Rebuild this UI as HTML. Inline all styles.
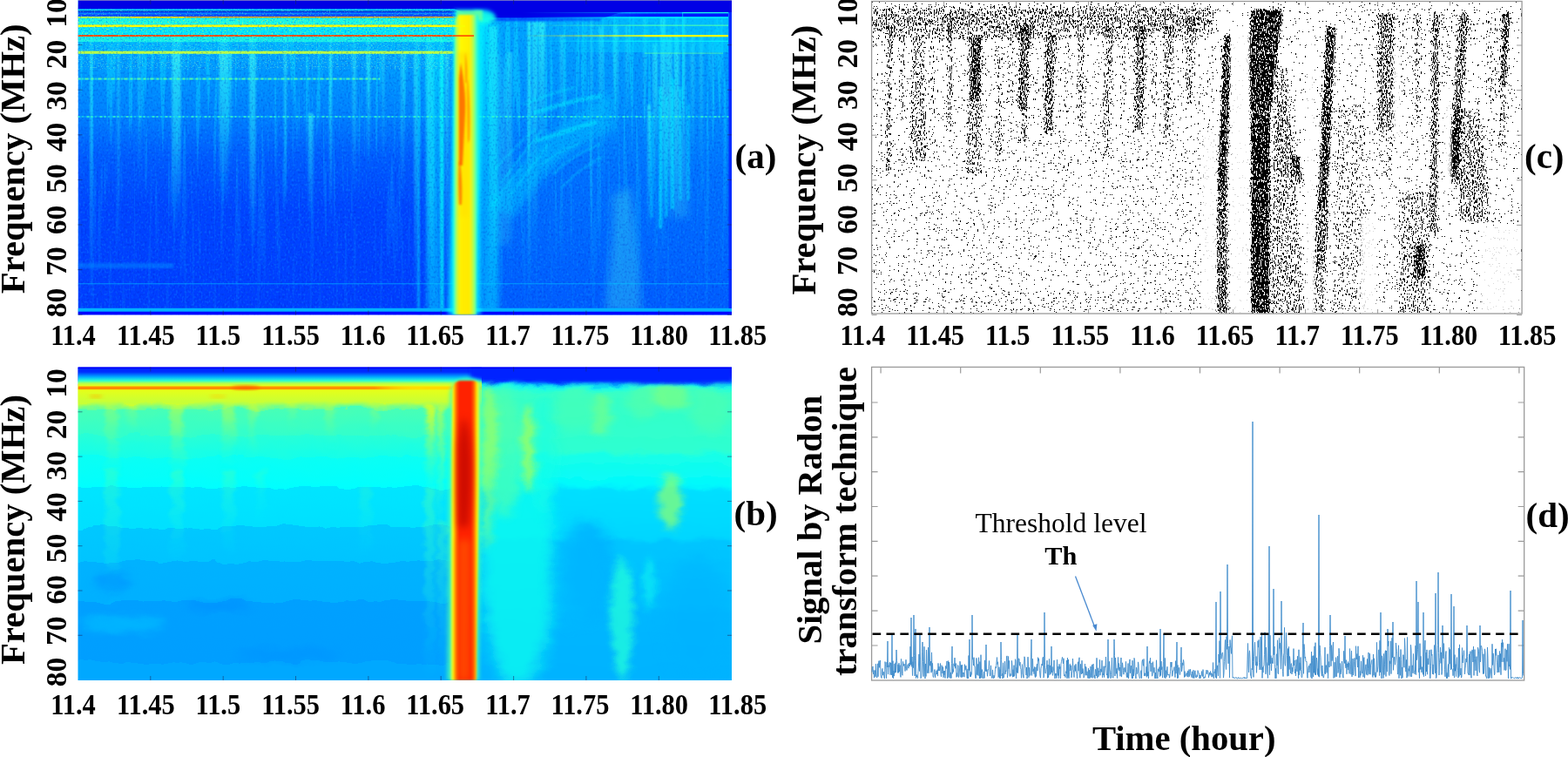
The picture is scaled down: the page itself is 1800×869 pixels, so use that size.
<!DOCTYPE html>
<html><head><meta charset="utf-8"><title>Figure</title>
<style>html,body{margin:0;padding:0;background:#fff;overflow:hidden}svg{display:block}</style></head>
<body><svg width="1800" height="869" viewBox="0 0 1800 869">
<rect width="1800" height="869" fill="#fff"/>
<defs><linearGradient id="gAL" x1="0" y1="0" x2="0" y2="1"><stop offset="0" stop-color="#00a8ff"/><stop offset="0.17146017699115043" stop-color="#00a3ff"/><stop offset="0.24889380530973448" stop-color="#0093ff"/><stop offset="0.37057522123893805" stop-color="#007fff"/><stop offset="0.49778761061946897" stop-color="#005bff"/><stop offset="0.663716814159292" stop-color="#0044ff"/><stop offset="1" stop-color="#003dff"/></linearGradient><linearGradient id="gAR" x1="0" y1="0" x2="0" y2="1"><stop offset="0" stop-color="#00a8ff"/><stop offset="0.27654867256637167" stop-color="#0093ff"/><stop offset="0.5530973451327433" stop-color="#0070ff"/><stop offset="1" stop-color="#005bff"/></linearGradient><linearGradient id="gStreak" x1="0" y1="0" x2="0" y2="1"><stop offset="0" stop-color="#30f0f8" stop-opacity="0.95"/><stop offset="0.5" stop-color="#20d8f8" stop-opacity="0.6"/><stop offset="1" stop-color="#10c0f8" stop-opacity="0"/></linearGradient><linearGradient id="gStreakE" x1="0" y1="0" x2="0" y2="1"><stop offset="0" stop-color="#30f0f8" stop-opacity="0"/><stop offset="0.15" stop-color="#30f0f8" stop-opacity="0.8"/><stop offset="0.7" stop-color="#20d8f8" stop-opacity="0.5"/><stop offset="1" stop-color="#10c0f8" stop-opacity="0"/></linearGradient><linearGradient id="gMaskV" x1="0" y1="0" x2="0" y2="1"><stop offset="0" stop-color="#bbb"/><stop offset="0.3" stop-color="#aaa"/><stop offset="0.5" stop-color="#666"/><stop offset="0.75" stop-color="#333"/><stop offset="1" stop-color="#222"/></linearGradient><linearGradient id="gBarH" x1="0" y1="0" x2="1" y2="0"><stop offset="0" stop-color="#00efff" stop-opacity="0"/><stop offset="0.08" stop-color="#19ffe5"/><stop offset="0.18" stop-color="#b2ff4c"/><stop offset="0.3" stop-color="#fff900"/><stop offset="0.6" stop-color="#ffef00"/><stop offset="0.72" stop-color="#b2ff4c"/><stop offset="0.84" stop-color="#2dffd1"/><stop offset="1" stop-color="#00efff" stop-opacity="0"/></linearGradient>
<clipPath id="clipA"><rect x="89.5" y="0" width="750.5" height="361.6"/></clipPath>
<filter id="fStreak" x="0" y="0" width="100%" height="100%" color-interpolation-filters="sRGB">
 <feTurbulence type="fractalNoise" baseFrequency="0.2 0.006" numOctaves="2" seed="11"/>
 <feColorMatrix type="matrix" values="0 0 0 0 0.05  0 0 0 0 0.95  0 0 0 0 1  8 0 0 0 -4.5"/>
</filter>
<filter id="fMottleL" x="0" y="0" width="100%" height="100%" color-interpolation-filters="sRGB">
 <feTurbulence type="fractalNoise" baseFrequency="0.45 0.35" numOctaves="1" seed="4"/>
 <feColorMatrix type="matrix" values="0 0 0 0 0.1  0 0 0 0 0.8  0 0 0 0 1  1.6 0 0 0 -0.8"/>
</filter>
<filter id="fMottleD" x="0" y="0" width="100%" height="100%" color-interpolation-filters="sRGB">
 <feTurbulence type="fractalNoise" baseFrequency="0.45 0.35" numOctaves="1" seed="17"/>
 <feColorMatrix type="matrix" values="0 0 0 0 0  0 0 0 0 0.1  0 0 0 0 0.75  -1.6 0 0 0 0.8"/>
</filter>
<filter id="fDots" x="0" y="0" width="100%" height="100%" color-interpolation-filters="sRGB">
 <feTurbulence type="fractalNoise" baseFrequency="0.6 0.8" numOctaves="1" seed="8"/>
 <feColorMatrix type="matrix" values="0 0 0 0 0.55  0 0 0 0 1  0 0 0 0 0.8  12 0 0 0 -6.9"/>
</filter>
<filter id="b05" x="-50%" y="-50%" width="200%" height="200%"><feGaussianBlur stdDeviation="0.5"/></filter>
<filter id="b1" x="-50%" y="-50%" width="200%" height="200%"><feGaussianBlur stdDeviation="1"/></filter>
<filter id="b15" x="-50%" y="-20%" width="200%" height="140%"><feGaussianBlur stdDeviation="1.5"/></filter>
<filter id="b2" x="-50%" y="-20%" width="200%" height="140%"><feGaussianBlur stdDeviation="2"/></filter>
<filter id="b3" x="-50%" y="-20%" width="200%" height="140%"><feGaussianBlur stdDeviation="3"/></filter>
<filter id="b5" x="-50%" y="-20%" width="200%" height="140%"><feGaussianBlur stdDeviation="5"/></filter>
<linearGradient id="gFadeR" x1="600" y1="0" x2="740" y2="0" gradientUnits="userSpaceOnUse"><stop offset="0" stop-color="#000"/><stop offset="1" stop-color="#fff"/></linearGradient>
<mask id="mRT" maskUnits="userSpaceOnUse" x="590" y="0" width="250" height="80"><rect x="590" y="0" width="250" height="80" fill="url(#gFadeR)"/></mask>
<filter id="fBandTex" x="0" y="0" width="100%" height="100%" color-interpolation-filters="sRGB">
 <feTurbulence type="fractalNoise" baseFrequency="0.5 0.6" numOctaves="1" seed="31"/>
 <feColorMatrix type="matrix" values="0 0 0 0 0  0 0 0 0 0.3  0 0 0 0 0.95  -7 0 0 0 3.1"/>
</filter>
<filter id="fBandTexY" x="0" y="0" width="100%" height="100%" color-interpolation-filters="sRGB">
 <feTurbulence type="fractalNoise" baseFrequency="0.5 0.6" numOctaves="1" seed="37"/>
 <feColorMatrix type="matrix" values="0 0 0 0 0.85  0 0 0 0 1  0 0 0 0 0.2  7 0 0 0 -4.2"/>
</filter>
<mask id="mA" maskUnits="userSpaceOnUse" x="89" y="0" width="752" height="362">
 <rect x="89" y="0" width="752" height="362" fill="url(#gMaskV)"/>
</mask>
</defs><g clip-path="url(#clipA)"><rect x="89.5" y="0.0" width="750.5" height="361.6" fill="url(#gAL)" /><rect x="548.0" y="0.0" width="292.0" height="361.6" fill="url(#gAR)" /><g mask="url(#mA)"><rect x="89.5" y="0" width="750.5" height="361.6" filter="url(#fStreak)" opacity="0.5"/></g><rect x="103.4" y="40" width="2.4000000000000004" height="322" fill="url(#gStreak)" opacity="0.98" filter="url(#b1)"/><rect x="134.5" y="40" width="3.0" height="260" fill="url(#gStreak)" opacity="0.56" filter="url(#b1)"/><rect x="158.1" y="40" width="3.75" height="180" fill="url(#gStreak)" opacity="0.49" filter="url(#b1)"/><rect x="197.2" y="40" width="10.5" height="230" fill="url(#gStreak)" opacity="1.00" filter="url(#b1)"/><rect x="251.4" y="40" width="10.5" height="200" fill="url(#gStreak)" opacity="0.98" filter="url(#b1)"/><rect x="261.8" y="60" width="4.5" height="140" fill="url(#gStreak)" opacity="0.56" filter="url(#b1)"/><rect x="286.2" y="40" width="7.5" height="250" fill="url(#gStreak)" opacity="0.91" filter="url(#b1)"/><rect x="325.9" y="40" width="3.3000000000000003" height="200" fill="url(#gStreak)" opacity="0.84" filter="url(#b1)"/><rect x="353.7" y="130" width="6.0" height="130" fill="url(#gStreak)" opacity="0.70" filter="url(#b1)"/><rect x="378.1" y="40" width="3.0" height="222" fill="url(#gStreak)" opacity="0.98" filter="url(#b1)"/><rect x="404.4" y="40" width="4.5" height="190" fill="url(#gStreak)" opacity="0.70" filter="url(#b1)"/><rect x="420.8" y="40" width="4.5" height="160" fill="url(#gStreak)" opacity="0.77" filter="url(#b1)"/><rect x="438.5" y="60" width="3.0" height="140" fill="url(#gStreak)" opacity="0.56" filter="url(#b1)"/><rect x="459.8" y="60" width="4.5" height="180" fill="url(#gStreak)" opacity="0.56" filter="url(#b1)"/><rect x="475.2" y="40" width="4.5" height="322" fill="url(#gStreak)" opacity="0.77" filter="url(#b1)"/><rect x="489.5" y="40" width="9.0" height="322" fill="url(#gStreak)" opacity="1.00" filter="url(#b1)"/><rect x="504.4" y="40" width="4.5" height="322" fill="url(#gStreak)" opacity="0.84" filter="url(#b1)"/><rect x="510.8" y="60" width="4.5" height="302" fill="url(#gStreak)" opacity="0.70" filter="url(#b1)"/><rect x="561.5" y="30" width="9.0" height="332" fill="url(#gStreak)" opacity="0.77" filter="url(#b1)"/><rect x="582.0" y="60" width="6.0" height="240" fill="url(#gStreak)" opacity="0.49" filter="url(#b1)"/><rect x="605.7" y="25" width="3.5999999999999996" height="337" fill="url(#gStreak)" opacity="1.00" filter="url(#b1)"/><rect x="611.0" y="25" width="6.0" height="275" fill="url(#gStreak)" opacity="0.77" filter="url(#b1)"/><rect x="618.2" y="25" width="7.5" height="175" fill="url(#gStreak)" opacity="0.91" filter="url(#b1)"/><rect x="642.8" y="40" width="4.5" height="140" fill="url(#gStreak)" opacity="0.56" filter="url(#b1)"/><rect x="678.0" y="20" width="2.0999999999999996" height="342" fill="url(#gStreak)" opacity="0.70" filter="url(#b1)"/><rect x="687.0" y="30" width="6.0" height="170" fill="url(#gStreak)" opacity="0.56" filter="url(#b1)"/><rect x="704.0" y="30" width="6.0" height="140" fill="url(#gStreak)" opacity="0.63" filter="url(#b1)"/><rect x="717.8" y="30" width="4.5" height="120" fill="url(#gStreak)" opacity="0.56" filter="url(#b1)"/><rect x="738.6" y="20" width="2.0999999999999996" height="160" fill="url(#gStreak)" opacity="0.84" filter="url(#b1)"/><rect x="743.1" y="120" width="3.75" height="160" fill="url(#gStreak)" opacity="0.77" filter="url(#b1)"/><rect x="749.0" y="50" width="6.0" height="190" fill="url(#gStreak)" opacity="0.70" filter="url(#b1)"/><rect x="758.0" y="20" width="6.0" height="280" fill="url(#gStreak)" opacity="0.91" filter="url(#b1)"/><rect x="764.2" y="40" width="7.5" height="220" fill="url(#gStreak)" opacity="0.77" filter="url(#b1)"/><rect x="774.0" y="40" width="6.0" height="190" fill="url(#gStreak)" opacity="0.77" filter="url(#b1)"/><rect x="783.5" y="20" width="3.0" height="230" fill="url(#gStreak)" opacity="0.77" filter="url(#b1)"/><rect x="792.8" y="40" width="4.5" height="160" fill="url(#gStreak)" opacity="0.56" filter="url(#b1)"/><rect x="802.8" y="40" width="4.5" height="180" fill="url(#gStreak)" opacity="0.49" filter="url(#b1)"/><rect x="816.5" y="40" width="3.0" height="140" fill="url(#gStreak)" opacity="0.49" filter="url(#b1)"/><rect x="490" y="45" width="16" height="317" fill="#00dbff" opacity="0.55" filter="url(#b3)"/><rect x="505.5" y="45" width="4" height="317" fill="#05fff9" opacity="0.7" filter="url(#b1)"/><rect x="479" y="60" width="3" height="302" fill="#00efff" opacity="0.5" filter="url(#b1)"/><path d="M702 225 C706 260 699 300 695 358 L736 358 C736 300 730 260 724 215 Z" fill="#28b0f4" opacity="0.6" filter="url(#b5)"/><path d="M755 100 C760 150 770 200 772 250 L790 250 C790 200 786 150 782 100 Z" fill="#30c8f4" opacity="0.35" filter="url(#b5)"/><path d="M560 60 C570 120 572 200 570 280 L585 280 C588 200 585 120 575 60 Z" fill="#30c8f4" opacity="0.35" filter="url(#b5)"/><path d="M560 235 C600 180 650 130 705 105 L705 150 C660 165 620 200 590 250 Z" fill="#00bcff" opacity="0.6" filter="url(#b5)"/><rect x="756.0" y="100" width="4" height="162" fill="#00f9ff" opacity="0.55" filter="url(#b1)"/><rect x="763.5" y="110" width="3" height="140" fill="#00f9ff" opacity="0.5" filter="url(#b1)"/><rect x="770.0" y="90" width="4" height="150" fill="#00f9ff" opacity="0.55" filter="url(#b1)"/><rect x="779.5" y="100" width="3" height="130" fill="#00f9ff" opacity="0.5" filter="url(#b1)"/><rect x="788.5" y="120" width="3" height="110" fill="#00f9ff" opacity="0.45" filter="url(#b1)"/><rect x="746.5" y="130" width="3" height="120" fill="#00f9ff" opacity="0.45" filter="url(#b1)"/><rect x="553" y="25" width="20" height="337" fill="#00efff" opacity="0.45" filter="url(#b3)"/><path d="M612 130 C635 122 660 115 690 110" stroke="#00efff" stroke-width="5" fill="none" opacity="0.5" filter="url(#b1)"/><path d="M615 162 C640 154 660 147 685 140" stroke="#00efff" stroke-width="5" fill="none" opacity="0.5" filter="url(#b1)"/><path d="M575 210 C590 190 605 170 622 150" stroke="#00efff" stroke-width="2" fill="none" opacity="0.45" filter="url(#b1)"/><path d="M585 225 C600 205 615 185 630 165" stroke="#00efff" stroke-width="2" fill="none" opacity="0.4" filter="url(#b1)"/><path d="M568 195 C585 175 600 160 615 148" stroke="#00efff" stroke-width="2" fill="none" opacity="0.4" filter="url(#b1)"/><path d="M635 200 C650 185 665 175 690 165" stroke="#00efff" stroke-width="2" fill="none" opacity="0.4" filter="url(#b1)"/><path d="M645 215 C660 200 672 190 692 180" stroke="#00efff" stroke-width="2" fill="none" opacity="0.35" filter="url(#b1)"/><path d="M620 190 C635 178 650 170 665 165" stroke="#00efff" stroke-width="2" fill="none" opacity="0.35" filter="url(#b1)"/><path d="M562 240 C575 222 588 205 600 190" stroke="#00efff" stroke-width="2" fill="none" opacity="0.35" filter="url(#b1)"/><path d="M600 120 C620 112 640 105 660 100" stroke="#00efff" stroke-width="3" fill="none" opacity="0.35" filter="url(#b1)"/><rect x="89.5" y="0.0" width="750.5" height="361.6" fill="#fff" filter="url(#fMottleL)" opacity="0.45"/><rect x="89.5" y="0.0" width="750.5" height="361.6" fill="#fff" filter="url(#fMottleD)" opacity="0.5"/><rect x="89.5" y="1.0" width="434.5" height="9.5" fill="#0000e5" opacity="1"/><rect x="89.5" y="10.5" width="434.5" height="2.0" fill="#00d1ff" opacity="0.9"/><rect x="89.5" y="12.5" width="434.5" height="1.1" fill="#0000b2" opacity="1"/><rect x="89.5" y="13.6" width="434.5" height="5.4" fill="#004cff" opacity="1"/><rect x="89.5" y="15.0" width="434.5" height="1.2" fill="#00b2ff" opacity="0.6"/><rect x="89.5" y="19.0" width="434.5" height="1.6" fill="#ff9e00" opacity="1"/><rect x="89.5" y="20.6" width="434.5" height="7.8" fill="#19ffe5" opacity="0.9"/><rect x="89.5" y="28.4" width="434.5" height="2.8" fill="#f9ff05" opacity="1"/><rect x="89.5" y="31.2" width="434.5" height="8.8" fill="#00efff" opacity="0.85"/><rect x="89.5" y="40.0" width="434.5" height="2.2" fill="#ff4c00" opacity="1"/><rect x="89.5" y="42.2" width="434.5" height="6.2" fill="#19ffe5" opacity="0.8"/><rect x="89.5" y="48.4" width="434.5" height="10.2" fill="#00bcff" opacity="0.6"/><rect x="89.5" y="58.6" width="434.5" height="3.2" fill="#bcff42" opacity="1"/><rect x="89.5" y="19.0" width="60.0" height="1.6" fill="#b2ff4c" /><rect x="149.5" y="19.0" width="62.0" height="1.6" fill="#ffe500" opacity="0.8"/><path d="M89.5 90.6H436" stroke="#7fff7f" stroke-width="2" stroke-dasharray="3 2 1 2 4 3" opacity="0.8"/><rect x="89.5" y="89.6" width="347.0" height="2.0" fill="#19ffe5" opacity="0.4"/><path d="M89.5 134H840" stroke="#4cffb2" stroke-width="2" stroke-dasharray="2 3 1 4 3 2" opacity="0.7"/><rect x="89.5" y="133.0" width="750.0" height="1.8" fill="#00efff" opacity="0.25"/><rect x="89.5" y="325.0" width="750.0" height="1.4" fill="#00d1ff" opacity="0.4"/><rect x="89.5" y="302.0" width="110.0" height="6.0" fill="#0093ff" opacity="0.45" filter="url(#b1)"/><path d="M520 1 H840 V14 H720 C705 14 700 20.5 690 20.5 H548 C540 20.5 535 14 520 10 Z" fill="#0000e5"/><path d="M560 20.5 H690 V24 H560 Z" fill="#0019ff" opacity="0.6" filter="url(#b1)"/><g mask="url(#mRT)"><rect x="600.0" y="14.0" width="236.0" height="1.4" fill="#00b2ff" opacity="0.8"/><rect x="783.0" y="14.0" width="53.0" height="1.4" fill="#19ffe5" /><rect x="600.0" y="15.4" width="236.0" height="4.0" fill="#0019ff" /><rect x="600.0" y="19.4" width="236.0" height="1.6" fill="#00efff" /><rect x="600.0" y="21.0" width="236.0" height="39.0" fill="#00dbff" opacity="0.45"/><rect x="600.0" y="28.4" width="236.0" height="1.6" fill="#4cffb2" opacity="0.7"/><rect x="600.0" y="40.0" width="236.0" height="2.2" fill="#e5ff19" opacity="0.85"/><rect x="600.0" y="46.6" width="236.0" height="1.4" fill="#05fff9" opacity="0.7"/><rect x="740.0" y="60.4" width="90.0" height="1.4" fill="#4cffb2" opacity="0.6"/></g><rect x="783.0" y="14.0" width="1.2" height="110.0" fill="#00efff" opacity="0.5"/><rect x="740.0" y="40.0" width="96.0" height="2.2" fill="#fff900" opacity="0.8"/><rect x="89.5" y="13.6" width="436.0" height="48.0" fill="#fff" filter="url(#fBandTex)" opacity="0.3"/><rect x="89.5" y="20.6" width="436.0" height="20.0" fill="#fff" filter="url(#fBandTexY)" opacity="0.5"/><rect x="89.5" y="10.0" width="434.5" height="70.0" fill="#fff" filter="url(#fDots)" opacity="0.3"/><rect x="89.5" y="0.0" width="750.5" height="1.0" fill="#6868c8" /><rect x="89.5" y="353.8" width="750.5" height="4.0" fill="#00b2ff" /><rect x="89.5" y="357.8" width="750.5" height="3.8" fill="#0005ff" /><rect x="836.5" y="14.0" width="3.5" height="340.0" fill="#002dff" /><path d="M521 11 H556 C562 11 566 14 569 18 L557 30 L556 60 C555 120 553 200 552 260 L552 361.6 L514 361.6 L516 260 C517 200 519 120 520 60 L521 22 Z" fill="#00f9ff" opacity="0.75" filter="url(#b2)"/><path d="M544 12 C556 13 566 16 571 22 C565 26 556 27 548 28 Z" fill="#19ffe5" opacity="0.85" filter="url(#b2)"/><rect x="524" y="12" width="30" height="12" fill="#60ff9e" opacity="0.9" filter="url(#b15)"/><path d="M526 17 H548 L551 24 L553 60 C552 120 550 200 548 260 L547 361.6 L518 361.6 L519 260 C520 200 521 120 521 60 L522 24 Z" fill="url(#gBarH)" filter="url(#b1)"/><path d="M529 72 C532 90 535 110 534 130 C533 150 532 170 531 190 L527 190 C527 160 527 120 527 90 Z" fill="#ff3800" opacity="0.85" filter="url(#b1)"/><path d="M537 90 C539 110 540 130 539 160 L537 165 C536 140 536 110 536 95 Z" fill="#ff8900" opacity="0.8" filter="url(#b1)"/><path d="M526 60 L538 60 L538 250 L526 250 Z" fill="#ffc600" opacity="0.3" filter="url(#b2)"/><path d="M528 185 C530 200 531 215 530 235 L527 235 C526 215 526 200 527 185 Z" fill="#ff6000" opacity="0.7" filter="url(#b1)"/><path d="M534 60 C536 70 537 80 536 95 L534 95 Z" fill="#ff7500" opacity="0.6" filter="url(#b1)"/><path d="M526 250 L538 250 L538 361 L526 361 Z" fill="#ffdb00" opacity="0.35" filter="url(#b2)"/><rect x="520.0" y="40.2" width="24.0" height="1.8" fill="#ff4c00" opacity="0.9" filter="url(#b05)"/><rect x="520.0" y="28.8" width="14.0" height="2.2" fill="#f9ff05" opacity="0.8" filter="url(#b05)"/></g>
<defs><linearGradient id="gBL" x1="0" y1="0" x2="0" y2="1"><stop offset="0.0000" stop-color="#0000f9"/><stop offset="0.0545" stop-color="#000fff"/><stop offset="0.0545" stop-color="#0023ff"/><stop offset="0.0649" stop-color="#00b2ff"/><stop offset="0.0649" stop-color="#00d1ff"/><stop offset="0.0792" stop-color="#7fff7f"/><stop offset="0.0792" stop-color="#ff9e00"/><stop offset="0.0896" stop-color="#ff9e00"/><stop offset="0.0896" stop-color="#dbff23"/><stop offset="0.1351" stop-color="#cbff33"/><stop offset="0.1351" stop-color="#b2ff4c"/><stop offset="0.1558" stop-color="#60ff9e"/><stop offset="0.1558" stop-color="#47ffb7"/><stop offset="0.2338" stop-color="#32ffcc"/><stop offset="0.2338" stop-color="#28ffd6"/><stop offset="0.2987" stop-color="#14ffea"/><stop offset="0.2987" stop-color="#0afff4"/><stop offset="0.3896" stop-color="#00ffff"/><stop offset="0.3896" stop-color="#00e5ff"/><stop offset="0.5065" stop-color="#00e0ff"/><stop offset="0.5065" stop-color="#00c8ff"/><stop offset="0.6104" stop-color="#00c4ff"/><stop offset="0.6104" stop-color="#00b2ff"/><stop offset="0.7273" stop-color="#00b0ff"/><stop offset="0.7273" stop-color="#00a0ff"/><stop offset="0.9091" stop-color="#009eff"/><stop offset="0.9091" stop-color="#00a8ff"/><stop offset="1.0000" stop-color="#00a8ff"/></linearGradient><linearGradient id="gBR" x1="0" y1="0" x2="0" y2="1"><stop offset="0.0000" stop-color="#0000f9"/><stop offset="0.0675" stop-color="#0019ff"/><stop offset="0.0675" stop-color="#002dff"/><stop offset="0.0831" stop-color="#00b2ff"/><stop offset="0.0831" stop-color="#05fff9"/><stop offset="0.0987" stop-color="#2dffd1"/><stop offset="0.0987" stop-color="#38ffc6"/><stop offset="0.2857" stop-color="#2dffd1"/><stop offset="0.2857" stop-color="#19ffe5"/><stop offset="0.3896" stop-color="#00f9ff"/><stop offset="0.3896" stop-color="#00e0ff"/><stop offset="0.5455" stop-color="#00d6ff"/><stop offset="0.5455" stop-color="#00c6ff"/><stop offset="0.7532" stop-color="#00bcff"/><stop offset="0.7532" stop-color="#00b7ff"/><stop offset="1.0000" stop-color="#00b2ff"/></linearGradient><linearGradient id="gRedH" x1="0" y1="0" x2="1" y2="0"><stop offset="0" stop-color="#4cffb2" stop-opacity="0"/><stop offset="0.06" stop-color="#b2ff4c"/><stop offset="0.12" stop-color="#ffef00"/><stop offset="0.2" stop-color="#ff7500"/><stop offset="0.3" stop-color="#ff2300"/><stop offset="0.7" stop-color="#ff2300"/><stop offset="0.8" stop-color="#ff7500"/><stop offset="0.88" stop-color="#ffef00"/><stop offset="0.94" stop-color="#b2ff4c"/><stop offset="1" stop-color="#4cffb2" stop-opacity="0"/></linearGradient><linearGradient id="gOrgH" x1="0" y1="0" x2="1" y2="0"><stop offset="0" stop-color="#ff8900"/><stop offset="0.85" stop-color="#ff9300"/><stop offset="1" stop-color="#f9ff05" stop-opacity="0"/></linearGradient><linearGradient id="gTopL" x1="0" y1="0" x2="0" y2="1"><stop offset="0" stop-color="#0023ff"/><stop offset="0.124" stop-color="#002dff"/><stop offset="0.258" stop-color="#00b2ff"/><stop offset="0.348" stop-color="#2dffd1"/><stop offset="0.416" stop-color="#b2ff4c"/><stop offset="0.483" stop-color="#e5ff19"/><stop offset="0.506" stop-color="#ffdb00"/><stop offset="0.56" stop-color="#ffdb00"/><stop offset="0.596" stop-color="#e5ff19"/><stop offset="0.865" stop-color="#cbff33"/><stop offset="1" stop-color="#bcff42" stop-opacity="0"/></linearGradient><linearGradient id="gDrip" x1="0" y1="0" x2="0" y2="1"><stop offset="0" stop-color="#e5ff19" stop-opacity="0.9"/><stop offset="0.4" stop-color="#7fff7f" stop-opacity="0.7"/><stop offset="1" stop-color="#19ffe5" stop-opacity="0"/></linearGradient><linearGradient id="gDripC" x1="0" y1="0" x2="0" y2="1"><stop offset="0" stop-color="#4cffb2" stop-opacity="0.8"/><stop offset="1" stop-color="#05fff9" stop-opacity="0"/></linearGradient>
<clipPath id="clipB"><rect x="89.5" y="421.5" width="750.5" height="359.5"/></clipPath>
<filter id="bb1" x="-50%" y="-20%" width="200%" height="140%"><feGaussianBlur stdDeviation="1.2"/></filter>
<filter id="bb2" x="-50%" y="-20%" width="200%" height="140%"><feGaussianBlur stdDeviation="2"/></filter>
<filter id="bb4" x="-50%" y="-30%" width="200%" height="160%"><feGaussianBlur stdDeviation="4"/></filter>
<filter id="bb6" x="-50%" y="-30%" width="200%" height="160%"><feGaussianBlur stdDeviation="6"/></filter>
<filter id="bb8" x="-50%" y="-50%" width="200%" height="200%"><feGaussianBlur stdDeviation="8"/></filter>
<filter id="fWob" x="70" y="400" width="790" height="400" filterUnits="userSpaceOnUse" color-interpolation-filters="sRGB">
 <feTurbulence type="fractalNoise" baseFrequency="0.035 0.07" numOctaves="3" seed="2" result="t"/>
 <feDisplacementMap in="SourceGraphic" in2="t" scale="12" xChannelSelector="R" yChannelSelector="G"/>
</filter>
</defs><g clip-path="url(#clipB)"><g filter="url(#fWob)"><rect x="75.0" y="410.0" width="770.0" height="385.0" fill="url(#gBL)" /><rect x="545.0" y="410.0" width="310.0" height="385.0" fill="url(#gBR)" filter="url(#bb2)"/><rect x="122.0" y="462" width="14" height="98" fill="url(#gDrip)" opacity="0.35" filter="url(#bb2)"/><rect x="195.5" y="462" width="16" height="98" fill="url(#gDrip)" opacity="0.6" filter="url(#bb2)"/><rect x="254.5" y="462" width="16" height="78" fill="url(#gDrip)" opacity="0.55" filter="url(#bb2)"/><rect x="285.0" y="462" width="10" height="68" fill="url(#gDrip)" opacity="0.4" filter="url(#bb2)"/><rect x="145.0" y="462" width="10" height="48" fill="url(#gDrip)" opacity="0.3" filter="url(#bb2)"/><rect x="330.0" y="462" width="10" height="38" fill="url(#gDrip)" opacity="0.3" filter="url(#bb2)"/><rect x="374.0" y="462" width="12" height="58" fill="url(#gDrip)" opacity="0.35" filter="url(#bb2)"/><rect x="425.0" y="462" width="10" height="48" fill="url(#gDrip)" opacity="0.3" filter="url(#bb2)"/><rect x="489.0" y="465" width="10" height="105" fill="url(#gDrip)" opacity="1.0" filter="url(#bb2)"/><rect x="502.0" y="465" width="8" height="155" fill="url(#gDrip)" opacity="0.6" filter="url(#bb2)"/><rect x="121.0" y="540" width="16" height="160" fill="url(#gDripC)" opacity="0.5" filter="url(#bb2)"/><rect x="196.5" y="540" width="14" height="110" fill="url(#gDripC)" opacity="0.55" filter="url(#bb2)"/><rect x="255.5" y="540" width="14" height="100" fill="url(#gDripC)" opacity="0.5" filter="url(#bb2)"/><rect x="295.0" y="540" width="10" height="60" fill="url(#gDripC)" opacity="0.35" filter="url(#bb2)"/><rect x="488.0" y="560" width="12" height="221" fill="url(#gDripC)" opacity="0.6" filter="url(#bb2)"/><rect x="503.0" y="600" width="10" height="181" fill="url(#gDripC)" opacity="0.5" filter="url(#bb2)"/><rect x="413.0" y="560" width="14" height="80" fill="url(#gDripC)" opacity="0.3" filter="url(#bb2)"/><ellipse cx="140" cy="716" rx="50" ry="10" fill="#00bcff" opacity="0.7" filter="url(#bb4)"/><ellipse cx="130" cy="668" rx="20" ry="12" fill="#0093ff" opacity="0.6" filter="url(#bb4)"/><ellipse cx="250" cy="695" rx="40" ry="6" fill="#0089ff" opacity="0.5" filter="url(#bb4)"/><ellipse cx="330" cy="752" rx="60" ry="8" fill="#008eff" opacity="0.4" filter="url(#bb4)"/><ellipse cx="595" cy="650" rx="42" ry="140" fill="#0fffef" opacity="0.75" filter="url(#bb8)"/><ellipse cx="578" cy="520" rx="22" ry="70" fill="#56ffa8" opacity="0.6" filter="url(#bb6)"/><ellipse cx="562" cy="500" rx="8" ry="60" fill="#b2ff4c" opacity="0.6" filter="url(#bb4)"/><ellipse cx="608" cy="515" rx="8" ry="48" fill="#9eff60" opacity="0.95" filter="url(#bb4)"/><ellipse cx="560" cy="540" rx="6" ry="90" fill="#7fff7f" opacity="0.7" filter="url(#bb4)"/><ellipse cx="675" cy="655" rx="26" ry="55" fill="#00a8ff" opacity="0.75" filter="url(#bb8)"/><ellipse cx="625" cy="520" rx="14" ry="70" fill="#19ffe5" opacity="0.5" filter="url(#bb6)"/><ellipse cx="690" cy="475" rx="12" ry="25" fill="#7fff7f" opacity="0.6" filter="url(#bb4)"/><ellipse cx="660" cy="470" rx="25" ry="25" fill="#4cffb2" opacity="0.5" filter="url(#bb6)"/><ellipse cx="740" cy="460" rx="20" ry="18" fill="#60ff9e" opacity="0.5" filter="url(#bb6)"/><ellipse cx="770" cy="455" rx="22" ry="14" fill="#89ff75" opacity="0.6" filter="url(#bb4)"/><ellipse cx="815" cy="470" rx="22" ry="28" fill="#56ffa8" opacity="0.5" filter="url(#bb6)"/><ellipse cx="770" cy="575" rx="14" ry="32" fill="#89ff75" opacity="0.75" filter="url(#bb4)"/><ellipse cx="665" cy="660" rx="32" ry="55" fill="#00bcff" opacity="0.6" filter="url(#bb8)"/><ellipse cx="714" cy="710" rx="13" ry="70" fill="#23ffdb" opacity="0.75" filter="url(#bb4)"/><ellipse cx="745" cy="670" rx="6" ry="30" fill="#0fffef" opacity="0.6" filter="url(#bb4)"/><ellipse cx="800" cy="710" rx="40" ry="70" fill="#00b2ff" opacity="0.5" filter="url(#bb8)"/></g><rect x="89.5" y="421.5" width="463.5" height="44.5" fill="url(#gTopL)" /><rect x="89.5" y="443.6" width="400.0" height="3.4" fill="url(#gOrgH)" /><path d="M540 421.5 H840 V439 C800 440 700 440 560 437 C552 436 546 434 540 433 Z" fill="#0023ff" filter="url(#bb2)"/><rect x="89.5" y="421.5" width="750.5" height="1.5" fill="#0000f9" /><ellipse cx="282" cy="445" rx="16" ry="2.2" fill="#ff4c00" opacity="0.8" filter="url(#bb2)"/><ellipse cx="110" cy="455" rx="8" ry="2" fill="#ffb200" opacity="0.6" filter="url(#bb2)"/><ellipse cx="250" cy="455" rx="10" ry="2" fill="#ffc600" opacity="0.5" filter="url(#bb2)"/><path d="M536 434 C547 434 554 441 555 452 L554 520 C552 600 551 700 550 781 L513 781 C514 700 514 600 515 520 L516 452 C517 441 525 434 536 434 Z" fill="#4cffb2" opacity="0.75" filter="url(#bb2)"/><path d="M529 437 H543 C549 437 552 442 552 450 L551 520 C549 600 548 700 547 781 L516 781 C517 700 517 600 518 520 L519 450 C519 442 523 437 529 437 Z" fill="url(#gRedH)" filter="url(#bb1)"/><path d="M531 480 C537 480 541 510 541 540 C541 570 539 590 537 605 L527 605 C525 580 525 540 526 510 Z" fill="#b20000" opacity="0.65" filter="url(#bb4)"/><path d="M526 620 L540 620 L539 781 L526 781 Z" fill="#ff7500" opacity="0.45" filter="url(#bb4)"/></g>
<defs>
<clipPath id="clipC"><rect x="1001.2" y="2.2" width="745.2" height="357.2"/></clipPath>
<filter id="fDotsC" x="1000" y="0" width="750" height="362" filterUnits="userSpaceOnUse" color-interpolation-filters="sRGB">
 <feTurbulence type="fractalNoise" baseFrequency="0.8 0.3" numOctaves="2" seed="3" result="n"/>
 <feColorMatrix in="n" type="matrix" values="0 0 0 0 0  0 0 0 0 0  0 0 0 0 0  1 0 0 0 0" result="na"/>
 <feComposite in="SourceAlpha" in2="na" operator="arithmetic" k1="0" k2="1" k3="2.5" k4="-1.4" result="sum"/>
 <feComponentTransfer in="sum" result="th"><feFuncA type="discrete" tableValues="0 1"/></feComponentTransfer>
 <feFlood flood-color="#000" result="blk"/>
 <feComposite in="blk" in2="th" operator="in"/>
</filter>
<filter id="fDashC" x="1000" y="0" width="750" height="362" filterUnits="userSpaceOnUse" color-interpolation-filters="sRGB">
 <feTurbulence type="fractalNoise" baseFrequency="0.35 0.9" numOctaves="2" seed="12" result="n"/>
 <feColorMatrix in="n" type="matrix" values="0 0 0 0 0  0 0 0 0 0  0 0 0 0 0  1 0 0 0 0" result="na"/>
 <feComposite in="SourceAlpha" in2="na" operator="arithmetic" k1="0" k2="1" k3="2.5" k4="-1.4" result="sum"/>
 <feComponentTransfer in="sum" result="th"><feFuncA type="discrete" tableValues="0 1"/></feComponentTransfer>
 <feFlood flood-color="#000" result="blk"/>
 <feComposite in="blk" in2="th" operator="in"/>
</filter>
<filter id="cb1" x="-50%" y="-20%" width="200%" height="140%"><feGaussianBlur stdDeviation="1.5"/></filter>
<filter id="cb2" x="-50%" y="-20%" width="200%" height="140%"><feGaussianBlur stdDeviation="2.5"/></filter>
<filter id="cb4" x="-50%" y="-20%" width="200%" height="140%"><feGaussianBlur stdDeviation="4"/></filter>
</defs><rect x="1000.6" y="1.5" width="746.4999999999999" height="358.5" fill="#fff"/><g clip-path="url(#clipC)"><g filter="url(#fDotsC)"><path d="M1000 6 H1395 V40 C1300 44 1100 48 1000 46 Z" fill="#000" opacity="0.36" filter="url(#cb2)"/><rect x="1000" y="10" width="395" height="24" fill="#000" opacity="0.18" filter="url(#cb2)"/><rect x="1560" y="8" width="186" height="30" fill="#000" opacity="0.1" filter="url(#cb2)"/><rect x="1000" y="40" width="395" height="160" fill="#000" opacity="0.04" filter="url(#cb2)"/><path d="M1018.5 28 L1025.5 28 L1023.0 200 L1017.0 200 Z" fill="#000" opacity="0.45" filter="url(#cb1)"/><path d="M1047.0 45 L1061.0 45 L1064.0 185 L1044.0 185 Z" fill="#000" opacity="0.42" filter="url(#cb1)"/><path d="M1088.0 20 L1094.0 20 L1093.0 150 L1087.0 150 Z" fill="#000" opacity="0.45" filter="url(#cb1)"/><path d="M1112.0 40 L1128.0 40 L1127.0 200 L1109.0 200 Z" fill="#000" opacity="0.42" filter="url(#cb1)"/><path d="M1115.5 45 L1126.5 45 L1124.0 115 L1114.0 115 Z" fill="#000" opacity="0.72" filter="url(#cb1)"/><path d="M1143.0 55 L1151.0 55 L1151.0 180 L1143.0 180 Z" fill="#000" opacity="0.34" filter="url(#cb1)"/><path d="M1170.0 28 L1184.0 28 L1180.0 125 L1168.0 125 Z" fill="#000" opacity="0.66" filter="url(#cb1)"/><path d="M1171.0 120 L1183.0 120 L1178.0 165 L1170.0 165 Z" fill="#000" opacity="0.36" filter="url(#cb1)"/><path d="M1199.0 40 L1213.0 40 L1208.0 155 L1198.0 155 Z" fill="#000" opacity="0.6" filter="url(#cb1)"/><path d="M1238.0 40 L1246.0 40 L1243.0 150 L1237.0 150 Z" fill="#000" opacity="0.4" filter="url(#cb1)"/><path d="M1268.0 30 L1278.0 30 L1274.0 180 L1266.0 180 Z" fill="#000" opacity="0.42" filter="url(#cb1)"/><path d="M1303.0 30 L1317.0 30 L1312.0 150 L1302.0 150 Z" fill="#000" opacity="0.58" filter="url(#cb1)"/><path d="M1336.0 30 L1348.0 30 L1344.0 160 L1336.0 160 Z" fill="#000" opacity="0.42" filter="url(#cb1)"/><path d="M1361.0 20 L1373.0 20 L1370.0 120 L1362.0 120 Z" fill="#000" opacity="0.4" filter="url(#cb1)"/><path d="M1033.0 40 L1039.0 40 L1039.0 140 L1033.0 140 Z" fill="#000" opacity="0.25" filter="url(#cb1)"/><path d="M1067.0 40 L1073.0 40 L1073.0 130 L1067.0 130 Z" fill="#000" opacity="0.25" filter="url(#cb1)"/><path d="M1157.0 40 L1163.0 40 L1163.0 120 L1157.0 120 Z" fill="#000" opacity="0.25" filter="url(#cb1)"/><path d="M1222.0 40 L1228.0 40 L1228.0 130 L1222.0 130 Z" fill="#000" opacity="0.25" filter="url(#cb1)"/><path d="M1287.0 40 L1293.0 40 L1293.0 130 L1287.0 130 Z" fill="#000" opacity="0.25" filter="url(#cb1)"/><path d="M1322.0 40 L1328.0 40 L1328.0 120 L1322.0 120 Z" fill="#000" opacity="0.25" filter="url(#cb1)"/><path d="M1404.5 40 L1413.5 40 L1409.0 220 L1397.0 220 Z" fill="#000" opacity="0.85" filter="url(#cb1)"/><path d="M1397.0 220 L1409.0 220 L1410.0 360 L1396.0 360 Z" fill="#000" opacity="0.68" filter="url(#cb1)"/><path d="M1436.0 10 L1474.0 10 L1467.0 60 L1433.0 60 Z" fill="#000" opacity="0.88" filter="url(#cb1)"/><path d="M1433.0 60 L1467.0 60 L1459.0 130 L1435.0 130 Z" fill="#000" opacity="0.9" filter="url(#cb1)"/><path d="M1435.5 130 L1458.5 130 L1458.0 360 L1436.0 360 Z" fill="#000" opacity="0.92" filter="url(#cb1)"/><path d="M1463.0 75 L1477.0 75 L1499.0 360 L1459.0 360 Z" fill="#000" opacity="0.4" filter="url(#cb1)"/><path d="M1465.0 110 L1487.0 110 L1493.0 200 L1463.0 200 Z" fill="#000" opacity="0.18" filter="url(#cb1)"/><path d="M1481.0 178 L1491.0 178 L1497.0 210 L1487.0 210 Z" fill="#000" opacity="0.7" filter="url(#cb1)"/><path d="M1522.0 30 L1534.0 30 L1524.0 240 L1512.0 240 Z" fill="#000" opacity="0.8" filter="url(#cb1)"/><path d="M1511.0 240 L1525.0 240 L1522.0 310 L1508.0 310 Z" fill="#000" opacity="0.62" filter="url(#cb1)"/><path d="M1508.0 310 L1522.0 310 L1521.0 360 L1507.0 360 Z" fill="#000" opacity="0.45" filter="url(#cb1)"/><path d="M1533.0 120 L1567.0 120 L1570.0 360 L1530.0 360 Z" fill="#000" opacity="0.26" filter="url(#cb1)"/><path d="M1581.0 15 L1601.0 15 L1601.0 150 L1581.0 150 Z" fill="#000" opacity="0.56" filter="url(#cb1)"/><path d="M1581.0 150 L1601.0 150 L1598.0 200 L1584.0 200 Z" fill="#000" opacity="0.25" filter="url(#cb1)"/><path d="M1622.5 15 L1631.5 15 L1631.0 140 L1623.0 140 Z" fill="#000" opacity="0.34" filter="url(#cb1)"/><path d="M1643.5 15 L1652.5 15 L1650.0 270 L1642.0 270 Z" fill="#000" opacity="0.62" filter="url(#cb1)"/><path d="M1606.0 220 L1642.0 220 L1642.0 360 L1606.0 360 Z" fill="#000" opacity="0.38" filter="url(#cb1)"/><path d="M1624.0 280 L1636.0 280 L1636.0 320 L1624.0 320 Z" fill="#000" opacity="0.72" filter="url(#cb1)"/><path d="M1675.0 15 L1687.0 15 L1673.0 200 L1661.0 200 Z" fill="#000" opacity="0.62" filter="url(#cb1)"/><path d="M1669.0 125 L1699.0 125 L1712.0 255 L1676.0 255 Z" fill="#000" opacity="0.46" filter="url(#cb1)"/><path d="M1665.0 150 L1675.0 150 L1675.0 210 L1665.0 210 Z" fill="#000" opacity="0.7" filter="url(#cb1)"/><path d="M1724.5 15 L1733.5 15 L1729.5 100 L1720.5 100 Z" fill="#000" opacity="0.7" filter="url(#cb1)"/><path d="M1720.0 100 L1730.0 100 L1730.0 170 L1720.0 170 Z" fill="#000" opacity="0.34" filter="url(#cb1)"/><path d="M1705.0 20 L1719.0 20 L1719.0 120 L1705.0 120 Z" fill="#000" opacity="0.2" filter="url(#cb1)"/><path d="M1655.0 20 L1665.0 20 L1665.0 100 L1655.0 100 Z" fill="#000" opacity="0.2" filter="url(#cb1)"/><path d="M1605.0 20 L1615.0 20 L1615.0 120 L1605.0 120 Z" fill="#000" opacity="0.2" filter="url(#cb1)"/></g><g filter="url(#fDashC)"><rect x="1000" y="150" width="395" height="210" fill="#000" opacity="0.07" filter="url(#cb4)"/><rect x="1000" y="335" width="395" height="25" fill="#000" opacity="0.08"/><rect x="1560" y="150" width="186" height="210" fill="#000" opacity="0.06" filter="url(#cb4)"/></g><rect x="1413" y="30" width="21" height="332" fill="#fff" opacity="0.85" filter="url(#cb1)"/><rect x="1500" y="40" width="9" height="320" fill="#fff" opacity="0.85" filter="url(#cb1)"/><rect x="1562" y="250" width="18" height="110" fill="#fff" opacity="0.85" filter="url(#cb1)"/><rect x="1700" y="260" width="45" height="100" fill="#fff" opacity="0.85" filter="url(#cb1)"/><rect x="1600" y="60" width="8" height="100" fill="#fff" opacity="0.85" filter="url(#cb1)"/><rect x="1380" y="150" width="16" height="210" fill="#fff" opacity="0.85" filter="url(#cb1)"/><rect x="1658" y="100" width="8" height="120" fill="#fff" opacity="0.85" filter="url(#cb1)"/></g><rect x="1000.6" y="1.5" width="746.4999999999999" height="358.5" fill="none" stroke="#9a9a9a" stroke-width="1.3"/><path d="M1000.6 52.0h6M1747.1 52.0h-6M1000.6 103.6h6M1747.1 103.6h-6M1000.6 155.2h6M1747.1 155.2h-6M1000.6 206.8h6M1747.1 206.8h-6M1000.6 258.4h6M1747.1 258.4h-6M1000.6 310.0h6M1747.1 310.0h-6M1000.6 361.6h6M1747.1 361.6h-6M1083.6 1.5v5M1083.6 360.0v-5M1166.6 1.5v5M1166.6 360.0v-5M1249.6 1.5v5M1249.6 360.0v-5M1332.6 1.5v5M1332.6 360.0v-5M1415.6 1.5v5M1415.6 360.0v-5M1498.6 1.5v5M1498.6 360.0v-5M1581.6 1.5v5M1581.6 360.0v-5M1664.6 1.5v5M1664.6 360.0v-5" stroke="#9a9a9a" stroke-width="1" fill="none"/>
<rect x="1000.6" y="421.4" width="749.1" height="359.6" fill="#fff" stroke="#9a9a9a" stroke-width="1.3"/><path d="M1011.1 421.4v7M1102.7 421.4v7M1194.3 421.4v7M1285.9 421.4v7M1377.5 421.4v7M1469.1 421.4v7M1560.7 421.4v7M1652.3 421.4v7M1743.9 421.4v7M1000.6 462.0h7M1749.7 462.0h-7M1000.6 501.9h7M1749.7 501.9h-7M1000.6 541.7h7M1749.7 541.7h-7M1000.6 581.5h7M1749.7 581.5h-7M1000.6 621.4h7M1749.7 621.4h-7M1000.6 661.2h7M1749.7 661.2h-7M1000.6 701.1h7M1749.7 701.1h-7M1000.6 741.0h7M1749.7 741.0h-7" stroke="#9a9a9a" stroke-width="1.2" fill="none"/><polyline points="1001.0,771.6 1001.5,766.4 1002.0,765.0 1002.5,773.9 1003.0,769.4 1003.5,778.1 1004.0,776.2 1004.5,769.6 1005.0,776.7 1005.5,762.2 1006.0,777.4 1006.5,777.6 1007.0,777.8 1007.5,761.9 1008.0,776.7 1008.5,760.7 1009.0,758.6 1009.5,766.3 1010.0,759.6 1010.5,758.0 1011.0,774.7 1011.5,777.1 1012.0,778.5 1012.5,768.5 1013.0,767.4 1013.5,775.2 1014.0,771.4 1014.5,771.5 1015.0,778.6 1015.5,778.9 1016.0,759.6 1016.5,762.7 1017.0,768.6 1017.5,778.7 1018.0,760.2 1018.5,765.9 1019.0,736.0 1019.5,774.1 1020.0,764.0 1020.5,765.5 1021.0,761.4 1021.5,760.2 1022.0,774.7 1022.5,761.1 1023.0,761.1 1023.5,775.0 1024.0,728.0 1024.5,777.7 1025.0,758.7 1025.5,778.7 1026.0,770.0 1026.5,776.1 1027.0,762.1 1027.5,772.4 1028.0,760.7 1028.5,771.8 1029.0,746.0 1029.5,758.4 1030.0,762.7 1030.5,772.3 1031.0,762.8 1031.5,772.3 1032.0,761.2 1032.5,771.1 1033.0,763.6 1033.5,774.8 1034.0,777.4 1034.5,756.4 1035.0,766.2 1035.5,773.6 1036.0,775.3 1036.5,759.4 1037.0,762.3 1037.5,764.4 1038.0,762.1 1038.5,764.2 1039.0,770.5 1039.5,764.5 1040.0,757.3 1040.5,767.8 1041.0,769.5 1041.5,766.7 1042.0,762.7 1042.5,762.7 1043.0,767.2 1043.5,761.4 1044.0,761.3 1044.5,764.9 1045.0,742.2 1045.5,763.1 1046.0,709.0 1046.5,765.2 1047.0,754.0 1047.5,775.6 1048.0,759.7 1048.5,766.6 1049.0,706.0 1049.5,752.7 1050.0,776.0 1050.5,758.3 1051.0,722.0 1051.5,778.6 1052.0,774.4 1052.5,777.0 1053.0,775.9 1053.5,778.7 1054.0,770.6 1054.5,763.0 1055.0,751.0 1055.5,770.5 1056.0,729.0 1056.5,757.1 1057.0,778.7 1057.5,777.9 1058.0,772.2 1058.5,748.8 1059.0,737.0 1059.5,759.6 1060.0,776.7 1060.5,762.9 1061.0,742.3 1061.5,770.1 1062.0,779.0 1062.5,762.0 1063.0,776.5 1063.5,746.1 1064.0,767.4 1064.5,772.6 1065.0,769.1 1065.5,743.2 1066.0,772.8 1066.5,763.0 1067.0,720.0 1067.5,763.0 1068.0,764.4 1068.5,759.1 1069.0,772.2 1069.5,748.9 1070.0,770.7 1070.5,761.4 1071.0,776.2 1071.5,777.6 1072.0,775.2 1072.5,771.6 1073.0,768.5 1073.5,777.9 1074.0,774.8 1074.5,774.2 1075.0,770.2 1075.5,774.0 1076.0,768.7 1076.5,776.1 1077.0,761.4 1077.5,770.0 1078.0,765.3 1078.5,770.1 1079.0,768.5 1079.5,761.5 1080.0,773.7 1080.5,776.9 1081.0,763.7 1081.5,764.5 1082.0,773.0 1082.5,765.7 1083.0,777.7 1083.5,770.4 1084.0,774.8 1084.5,770.0 1085.0,778.5 1085.5,764.5 1086.0,767.7 1086.5,767.2 1087.0,758.9 1087.5,778.7 1088.0,776.4 1088.5,758.6 1089.0,777.7 1089.5,760.1 1090.0,764.3 1090.5,776.8 1091.0,778.6 1091.5,771.9 1092.0,778.5 1092.5,761.5 1093.0,742.0 1093.5,773.4 1094.0,768.4 1094.5,771.3 1095.0,761.8 1095.5,764.8 1096.0,755.1 1096.5,764.8 1097.0,767.3 1097.5,761.6 1098.0,777.4 1098.5,772.6 1099.0,776.6 1099.5,763.5 1100.0,764.0 1100.5,777.6 1101.0,775.5 1101.5,769.0 1102.0,759.2 1102.5,762.8 1103.0,777.3 1103.5,763.6 1104.0,777.7 1104.5,763.2 1105.0,777.1 1105.5,772.0 1106.0,772.9 1106.5,772.3 1107.0,777.2 1107.5,762.7 1108.0,769.3 1108.5,766.1 1109.0,764.2 1109.5,770.0 1110.0,778.7 1110.5,778.7 1111.0,767.9 1111.5,779.0 1112.0,752.5 1112.5,769.4 1113.0,734.0 1113.5,776.8 1114.0,771.4 1114.5,776.8 1115.0,774.2 1115.5,774.2 1116.0,706.0 1116.5,756.7 1117.0,756.3 1117.5,764.0 1118.0,754.7 1118.5,764.8 1119.0,764.8 1119.5,776.9 1120.0,778.9 1120.5,778.3 1121.0,755.4 1121.5,774.2 1122.0,774.8 1122.5,762.5 1123.0,775.6 1123.5,754.8 1124.0,770.6 1124.5,779.0 1125.0,759.6 1125.5,778.6 1126.0,751.7 1126.5,772.6 1127.0,778.3 1127.5,768.6 1128.0,778.5 1128.5,778.6 1129.0,778.4 1129.5,771.2 1130.0,778.6 1130.5,757.9 1131.0,770.8 1131.5,770.2 1132.0,740.0 1132.5,770.8 1133.0,768.5 1133.5,776.3 1134.0,769.8 1134.5,768.9 1135.0,767.6 1135.5,758.5 1136.0,771.6 1136.5,776.0 1137.0,774.5 1137.5,763.9 1138.0,774.4 1138.5,778.3 1139.0,778.3 1139.5,768.9 1140.0,778.6 1140.5,778.7 1141.0,775.2 1141.5,778.2 1142.0,774.7 1142.5,768.8 1143.0,765.3 1143.5,767.1 1144.0,759.8 1144.5,754.6 1145.0,762.7 1145.5,759.8 1146.0,777.5 1146.5,777.0 1147.0,765.7 1147.5,778.5 1148.0,768.5 1148.5,778.7 1149.0,737.0 1149.5,757.6 1150.0,776.0 1150.5,773.3 1151.0,779.0 1151.5,760.8 1152.0,778.1 1152.5,776.9 1153.0,770.7 1153.5,759.2 1154.0,773.9 1154.5,769.8 1155.0,770.5 1155.5,754.0 1156.0,752.9 1156.5,777.9 1157.0,770.6 1157.5,753.5 1158.0,767.7 1158.5,758.5 1159.0,776.2 1159.5,776.5 1160.0,773.4 1160.5,775.6 1161.0,775.5 1161.5,758.4 1162.0,765.0 1162.5,777.2 1163.0,768.7 1163.5,776.8 1164.0,763.7 1164.5,776.3 1165.0,773.4 1165.5,756.7 1166.0,758.8 1166.5,779.0 1167.0,766.4 1167.5,772.2 1168.0,728.0 1168.5,772.7 1169.0,764.3 1169.5,755.8 1170.0,756.5 1170.5,764.2 1171.0,760.1 1171.5,766.8 1172.0,768.5 1172.5,778.3 1173.0,773.4 1173.5,762.6 1174.0,774.2 1174.5,774.6 1175.0,778.3 1175.5,763.1 1176.0,753.8 1176.5,756.0 1177.0,764.0 1177.5,767.8 1178.0,775.0 1178.5,766.0 1179.0,779.0 1179.5,776.4 1180.0,754.2 1180.5,763.9 1181.0,777.7 1181.5,766.3 1182.0,771.6 1182.5,775.5 1183.0,774.4 1183.5,754.1 1184.0,734.0 1184.5,775.5 1185.0,767.2 1185.5,756.3 1186.0,770.8 1186.5,767.8 1187.0,773.7 1187.5,765.5 1188.0,776.2 1188.5,777.7 1189.0,765.9 1189.5,776.5 1190.0,765.1 1190.5,762.1 1191.0,770.1 1191.5,754.7 1192.0,759.0 1192.5,755.9 1193.0,764.2 1193.5,769.8 1194.0,776.6 1194.5,778.2 1195.0,767.8 1195.5,764.7 1196.0,762.1 1196.5,764.1 1197.0,754.9 1197.5,754.2 1198.0,778.0 1198.5,776.5 1199.0,703.0 1199.5,763.4 1200.0,772.7 1200.5,773.2 1201.0,768.4 1201.5,766.3 1202.0,758.1 1202.5,778.4 1203.0,763.1 1203.5,777.8 1204.0,773.3 1204.5,756.4 1205.0,774.6 1205.5,763.9 1206.0,767.0 1206.5,773.5 1207.0,742.0 1207.5,771.7 1208.0,765.5 1208.5,775.4 1209.0,771.5 1209.5,769.1 1210.0,757.9 1210.5,773.8 1211.0,779.0 1211.5,773.1 1212.0,775.7 1212.5,773.0 1213.0,778.6 1213.5,757.2 1214.0,771.1 1214.5,775.4 1215.0,765.1 1215.5,778.6 1216.0,762.4 1216.5,767.7 1217.0,765.3 1217.5,778.8 1218.0,762.4 1218.5,759.3 1219.0,756.8 1219.5,754.4 1220.0,757.1 1220.5,761.8 1221.0,755.8 1221.5,775.9 1222.0,774.9 1222.5,774.6 1223.0,777.6 1223.5,770.7 1224.0,773.0 1224.5,758.0 1225.0,778.9 1225.5,755.1 1226.0,777.4 1226.5,757.1 1227.0,778.8 1227.5,771.4 1228.0,762.7 1228.5,762.3 1229.0,770.0 1229.5,763.9 1230.0,777.9 1230.5,772.9 1231.0,770.6 1231.5,756.0 1232.0,768.4 1232.5,769.3 1233.0,777.6 1233.5,764.3 1234.0,763.5 1234.5,770.4 1235.0,762.3 1235.5,770.8 1236.0,773.6 1236.5,778.9 1237.0,772.4 1237.5,759.8 1238.0,770.2 1238.5,758.3 1239.0,754.8 1239.5,777.1 1240.0,778.3 1240.5,762.4 1241.0,772.2 1241.5,774.0 1242.0,758.2 1242.5,773.1 1243.0,767.5 1243.5,771.0 1244.0,778.2 1244.5,777.5 1245.0,775.2 1245.5,762.1 1246.0,775.2 1246.5,765.5 1247.0,765.6 1247.5,775.2 1248.0,770.8 1248.5,776.6 1249.0,778.6 1249.5,767.1 1250.0,778.7 1250.5,769.3 1251.0,778.7 1251.5,777.6 1252.0,765.0 1252.5,775.6 1253.0,777.7 1253.5,763.0 1254.0,778.4 1254.5,765.2 1255.0,762.1 1255.5,765.6 1256.0,777.6 1256.5,774.9 1257.0,779.0 1257.5,768.3 1258.0,769.3 1258.5,775.9 1259.0,755.3 1259.5,778.2 1260.0,778.3 1260.5,766.8 1261.0,776.9 1261.5,770.4 1262.0,771.2 1262.5,757.4 1263.0,775.3 1263.5,769.2 1264.0,767.9 1264.5,771.3 1265.0,758.1 1265.5,777.9 1266.0,773.1 1266.5,774.9 1267.0,764.7 1267.5,777.6 1268.0,772.7 1268.5,764.8 1269.0,765.9 1269.5,754.0 1270.0,765.5 1270.5,775.0 1271.0,773.6 1271.5,778.5 1272.0,734.0 1272.5,778.5 1273.0,776.7 1273.5,759.4 1274.0,768.0 1274.5,771.2 1275.0,778.8 1275.5,774.5 1276.0,769.6 1276.5,755.1 1277.0,777.9 1277.5,777.7 1278.0,778.2 1278.5,767.0 1279.0,734.0 1279.5,752.5 1280.0,776.0 1280.5,755.2 1281.0,765.2 1281.5,773.3 1282.0,767.3 1282.5,778.6 1283.0,769.3 1283.5,754.5 1284.0,768.5 1284.5,761.5 1285.0,770.1 1285.5,766.0 1286.0,776.3 1286.5,762.5 1287.0,755.0 1287.5,777.1 1288.0,772.0 1288.5,760.8 1289.0,765.9 1289.5,769.4 1290.0,774.2 1290.5,766.9 1291.0,766.3 1291.5,770.0 1292.0,771.7 1292.5,759.4 1293.0,774.4 1293.5,777.6 1294.0,772.2 1294.5,777.6 1295.0,761.5 1295.5,779.0 1296.0,773.5 1296.5,762.7 1297.0,756.9 1297.5,772.7 1298.0,767.8 1298.5,764.2 1299.0,776.7 1299.5,779.0 1300.0,758.2 1300.5,778.6 1301.0,768.3 1301.5,776.0 1302.0,755.4 1302.5,757.4 1303.0,771.6 1303.5,775.4 1304.0,779.0 1304.5,766.1 1305.0,768.2 1305.5,773.7 1306.0,771.9 1306.5,759.9 1307.0,762.7 1307.5,775.1 1308.0,777.2 1308.5,778.9 1309.0,777.9 1309.5,770.9 1310.0,769.5 1310.5,778.8 1311.0,759.9 1311.5,757.4 1312.0,761.5 1312.5,764.3 1313.0,756.5 1313.5,776.0 1314.0,773.2 1314.5,772.9 1315.0,776.2 1315.5,772.4 1316.0,765.3 1316.5,777.3 1317.0,742.0 1317.5,776.1 1318.0,771.1 1318.5,778.9 1319.0,762.5 1319.5,758.9 1320.0,761.5 1320.5,755.2 1321.0,770.9 1321.5,763.4 1322.0,760.9 1322.5,776.2 1323.0,775.1 1323.5,759.7 1324.0,768.1 1324.5,772.3 1325.0,766.3 1325.5,777.3 1326.0,779.0 1326.5,772.0 1327.0,779.0 1327.5,757.8 1328.0,774.0 1328.5,778.3 1329.0,779.0 1329.5,767.8 1330.0,770.4 1330.5,770.7 1331.0,765.6 1331.5,776.7 1332.0,722.0 1332.5,775.5 1333.0,759.1 1333.5,768.7 1334.0,765.6 1334.5,778.1 1335.0,771.8 1335.5,759.3 1336.0,728.0 1336.5,777.6 1337.0,778.2 1337.5,755.5 1338.0,778.7 1338.5,769.7 1339.0,777.1 1339.5,770.7 1340.0,765.3 1340.5,774.9 1341.0,774.9 1341.5,774.8 1342.0,773.9 1342.5,778.2 1343.0,776.3 1343.5,770.6 1344.0,760.0 1344.5,765.5 1345.0,760.0 1345.5,776.3 1346.0,775.7 1346.5,770.2 1347.0,770.3 1347.5,768.0 1348.0,765.6 1348.5,772.0 1349.0,777.6 1349.5,758.7 1350.0,773.2 1350.5,767.4 1351.0,737.0 1351.5,778.7 1352.0,763.5 1352.5,778.4 1353.0,766.9 1353.5,766.4 1354.0,771.9 1354.5,774.6 1355.0,770.5 1355.5,760.5 1356.0,743.0 1356.5,770.9 1357.0,767.3 1357.5,760.9 1358.0,763.7 1358.5,757.4 1359.0,760.2 1359.5,777.5 1360.0,770.6 1360.5,776.8 1361.0,775.4 1361.5,775.3 1362.0,772.5 1362.5,772.7 1363.0,776.8 1363.5,770.2 1364.0,777.3 1364.5,773.3 1365.0,768.5 1365.5,776.6 1366.0,772.8 1366.5,768.3 1367.0,774.8 1367.5,774.6 1368.0,777.7 1368.5,770.8 1369.0,775.3 1369.5,778.5 1370.0,769.2 1370.5,777.6 1371.0,778.6 1371.5,771.9 1372.0,769.8 1372.5,777.2 1373.0,777.1 1373.5,778.0 1374.0,774.7 1374.5,776.9 1375.0,769.6 1375.5,771.1 1376.0,773.2 1376.5,773.1 1377.0,778.9 1377.5,775.0 1378.0,778.7 1378.5,776.3 1379.0,774.6 1379.5,770.6 1380.0,776.4 1380.5,776.5 1381.0,768.6 1381.5,776.6 1382.0,779.0 1382.5,777.4 1383.0,776.8 1383.5,777.8 1384.0,773.4 1384.5,771.5 1385.0,769.1 1385.5,773.9 1386.0,771.7 1386.5,769.6 1387.0,772.0 1387.5,777.9 1388.0,774.2 1388.5,772.0 1389.0,775.3 1389.5,770.5 1390.0,774.2 1390.5,772.8 1391.0,777.2 1391.5,773.6 1392.0,776.5 1392.5,760.6 1393.0,777.4 1393.5,778.8 1394.0,771.2 1394.5,772.5 1395.0,768.2 1395.5,777.8 1396.0,691.0 1396.5,778.8 1397.0,772.0 1397.5,764.8 1398.0,763.7 1398.5,776.0 1399.0,751.0 1399.5,760.4 1400.0,735.6 1400.5,778.4 1401.0,679.0 1401.5,752.4 1402.0,756.5 1402.5,753.2 1403.0,749.4 1403.5,749.0 1404.0,755.4 1404.5,778.1 1405.0,772.9 1405.5,759.5 1406.0,745.1 1406.5,734.5 1407.0,757.4 1407.5,768.5 1408.0,730.7 1408.5,745.3 1409.0,648.0 1409.5,738.5 1410.0,761.8 1410.5,750.2 1411.0,742.0 1411.5,777.9 1412.0,734.5 1412.5,743.3 1413.0,743.8 1413.5,750.4 1414.0,737.7 1414.5,729.8 1415.0,778.2 1415.5,778.1 1416.0,777.2 1416.5,778.3 1417.0,778.8 1417.5,778.7 1418.0,777.7 1418.5,778.0 1419.0,777.5 1419.5,778.6 1420.0,778.6 1420.5,778.9 1421.0,778.7 1421.5,777.5 1422.0,778.8 1422.5,778.2 1423.0,778.9 1423.5,778.7 1424.0,777.9 1424.5,778.5 1425.0,778.3 1425.5,778.7 1426.0,779.0 1426.5,778.4 1427.0,778.7 1427.5,777.8 1428.0,777.5 1428.5,778.7 1429.0,777.4 1429.5,778.9 1430.0,778.1 1430.5,778.9 1431.0,778.2 1431.5,778.6 1432.0,757.9 1432.5,738.5 1433.0,762.5 1433.5,772.0 1434.0,750.2 1434.5,746.8 1435.0,756.1 1435.5,775.2 1436.0,776.3 1436.5,778.9 1437.0,767.4 1437.5,768.9 1438.0,484.0 1438.5,759.4 1439.0,777.4 1439.5,753.7 1440.0,746.2 1440.5,737.2 1441.0,748.9 1441.5,763.9 1442.0,753.5 1442.5,772.3 1443.0,759.8 1443.5,764.2 1444.0,735.8 1444.5,743.1 1445.0,734.5 1445.5,760.4 1446.0,768.9 1446.5,767.0 1447.0,731.1 1447.5,738.0 1448.0,769.0 1448.5,726.5 1449.0,778.4 1449.5,765.8 1450.0,772.1 1450.5,765.1 1451.0,763.6 1451.5,751.3 1452.0,725.8 1452.5,733.5 1453.0,773.8 1453.5,743.1 1454.0,759.8 1454.5,761.9 1455.0,772.6 1455.5,778.5 1456.0,728.3 1456.5,763.6 1457.0,627.0 1457.5,774.7 1458.0,729.3 1458.5,761.7 1459.0,752.6 1459.5,770.0 1460.0,755.2 1460.5,761.2 1461.0,761.2 1461.5,761.7 1462.0,676.0 1462.5,751.6 1463.0,742.1 1463.5,762.5 1464.0,778.8 1464.5,767.4 1465.0,778.7 1465.5,750.8 1466.0,763.8 1466.5,734.8 1467.0,772.7 1467.5,773.7 1468.0,748.2 1468.5,732.4 1469.0,744.5 1469.5,738.3 1470.0,752.9 1470.5,768.1 1471.0,690.0 1471.5,748.1 1472.0,754.4 1472.5,770.4 1473.0,776.6 1473.5,752.9 1474.0,749.6 1474.5,720.4 1475.0,761.4 1475.5,764.4 1476.0,751.5 1476.5,726.4 1477.0,741.6 1477.5,752.3 1478.0,776.3 1478.5,744.6 1479.0,776.0 1479.5,742.4 1480.0,768.5 1480.5,753.5 1481.0,758.5 1481.5,772.9 1482.0,762.5 1482.5,761.6 1483.0,774.0 1483.5,766.4 1484.0,771.4 1484.5,762.3 1485.0,744.6 1485.5,764.0 1486.0,758.0 1486.5,772.8 1487.0,768.3 1487.5,775.9 1488.0,757.3 1488.5,765.1 1489.0,770.8 1489.5,753.3 1490.0,767.1 1490.5,778.7 1491.0,745.8 1491.5,774.7 1492.0,760.8 1492.5,769.4 1493.0,754.5 1493.5,768.6 1494.0,776.5 1494.5,777.9 1495.0,775.8 1495.5,738.2 1496.0,715.0 1496.5,773.3 1497.0,739.5 1497.5,745.6 1498.0,755.4 1498.5,754.0 1499.0,759.3 1499.5,759.5 1500.0,759.2 1500.5,774.8 1501.0,778.4 1501.5,769.8 1502.0,765.8 1502.5,764.2 1503.0,772.0 1503.5,764.4 1504.0,761.7 1504.5,761.8 1505.0,777.5 1505.5,748.2 1506.0,779.0 1506.5,758.3 1507.0,752.8 1507.5,777.0 1508.0,752.6 1508.5,772.3 1509.0,741.9 1509.5,774.5 1510.0,737.7 1510.5,774.9 1511.0,768.1 1511.5,755.1 1512.0,760.2 1512.5,774.5 1513.0,767.6 1513.5,776.4 1514.0,591.0 1514.5,777.2 1515.0,740.9 1515.5,749.3 1516.0,754.4 1516.5,767.1 1517.0,773.7 1517.5,776.1 1518.0,764.0 1518.5,773.7 1519.0,777.4 1519.5,778.1 1520.0,773.8 1520.5,773.2 1521.0,743.1 1521.5,773.8 1522.0,763.9 1522.5,763.8 1523.0,772.4 1523.5,768.0 1524.0,750.7 1524.5,778.7 1525.0,766.5 1525.5,759.6 1526.0,765.9 1526.5,741.4 1527.0,706.0 1527.5,737.9 1528.0,764.7 1528.5,740.7 1529.0,758.7 1529.5,756.4 1530.0,742.4 1530.5,737.0 1531.0,778.4 1531.5,770.0 1532.0,760.2 1532.5,777.4 1533.0,776.8 1533.5,754.7 1534.0,776.1 1534.5,776.9 1535.0,758.1 1535.5,753.3 1536.0,772.5 1536.5,768.6 1537.0,744.3 1537.5,750.6 1538.0,777.8 1538.5,761.5 1539.0,773.9 1539.5,769.4 1540.0,767.9 1540.5,759.1 1541.0,770.4 1541.5,776.0 1542.0,778.2 1542.5,747.4 1543.0,759.2 1543.5,761.4 1544.0,730.0 1544.5,764.0 1545.0,766.9 1545.5,757.7 1546.0,773.8 1546.5,761.9 1547.0,765.8 1547.5,759.6 1548.0,769.1 1548.5,761.4 1549.0,773.4 1549.5,744.6 1550.0,757.7 1550.5,765.9 1551.0,774.2 1551.5,747.2 1552.0,776.9 1552.5,770.6 1553.0,756.1 1553.5,775.0 1554.0,768.8 1554.5,759.5 1555.0,755.4 1555.5,766.4 1556.0,776.1 1556.5,741.7 1557.0,757.0 1557.5,756.2 1558.0,750.5 1558.5,766.0 1559.0,741.8 1559.5,777.9 1560.0,753.2 1560.5,753.2 1561.0,777.9 1561.5,770.6 1562.0,775.4 1562.5,758.9 1563.0,770.1 1563.5,771.1 1564.0,773.1 1564.5,752.3 1565.0,777.2 1565.5,756.6 1566.0,754.7 1566.5,778.3 1567.0,771.2 1567.5,766.1 1568.0,762.8 1568.5,774.4 1569.0,770.2 1569.5,756.5 1570.0,775.2 1570.5,767.3 1571.0,749.0 1571.5,766.0 1572.0,773.8 1572.5,750.4 1573.0,774.3 1573.5,763.4 1574.0,762.0 1574.5,758.5 1575.0,757.4 1575.5,776.7 1576.0,777.5 1576.5,751.0 1577.0,775.2 1577.5,755.8 1578.0,773.7 1578.5,777.4 1579.0,771.7 1579.5,777.3 1580.0,771.4 1580.5,737.4 1581.0,771.6 1581.5,768.8 1582.0,764.5 1582.5,746.2 1583.0,745.7 1583.5,775.6 1584.0,735.3 1584.5,771.7 1585.0,703.0 1585.5,775.2 1586.0,778.9 1586.5,752.8 1587.0,756.8 1587.5,769.1 1588.0,778.5 1588.5,750.5 1589.0,774.6 1589.5,762.2 1590.0,748.9 1590.5,746.7 1591.0,776.5 1591.5,747.0 1592.0,768.1 1592.5,771.2 1593.0,722.0 1593.5,741.7 1594.0,736.0 1594.5,774.7 1595.0,775.5 1595.5,758.8 1596.0,761.9 1596.5,735.9 1597.0,773.6 1597.5,757.3 1598.0,732.3 1598.5,754.8 1599.0,714.0 1599.5,769.3 1600.0,759.0 1600.5,754.6 1601.0,754.0 1601.5,763.2 1602.0,754.8 1602.5,738.0 1603.0,744.1 1603.5,747.6 1604.0,761.6 1604.5,774.1 1605.0,772.9 1605.5,740.8 1606.0,778.7 1606.5,754.4 1607.0,768.1 1607.5,775.3 1608.0,745.5 1608.5,757.3 1609.0,779.0 1609.5,765.9 1610.0,777.9 1610.5,751.9 1611.0,751.6 1611.5,753.5 1612.0,766.3 1612.5,732.6 1613.0,743.8 1613.5,768.4 1614.0,771.2 1614.5,757.4 1615.0,778.1 1615.5,731.5 1616.0,769.8 1616.5,776.4 1617.0,767.5 1617.5,770.2 1618.0,764.5 1618.5,775.1 1619.0,776.7 1619.5,740.3 1620.0,746.8 1620.5,777.0 1621.0,764.3 1621.5,763.8 1622.0,772.8 1622.5,750.5 1623.0,769.1 1623.5,771.3 1624.0,773.8 1624.5,770.0 1625.0,741.2 1625.5,774.6 1626.0,667.0 1626.5,757.6 1627.0,752.0 1627.5,745.3 1628.0,691.0 1628.5,771.6 1629.0,767.3 1629.5,778.6 1630.0,738.7 1630.5,768.4 1631.0,753.3 1631.5,767.0 1632.0,771.9 1632.5,765.7 1633.0,768.6 1633.5,774.3 1634.0,703.0 1634.5,776.7 1635.0,750.0 1635.5,744.1 1636.0,735.1 1636.5,775.9 1637.0,749.1 1637.5,771.1 1638.0,745.9 1638.5,774.2 1639.0,755.8 1639.5,762.3 1640.0,762.9 1640.5,751.6 1641.0,746.3 1641.5,778.5 1642.0,778.8 1642.5,764.3 1643.0,745.7 1643.5,752.4 1644.0,751.4 1644.5,773.7 1645.0,762.8 1645.5,774.2 1646.0,762.2 1646.5,740.6 1647.0,756.2 1647.5,772.7 1648.0,681.0 1648.5,778.6 1649.0,777.7 1649.5,769.2 1650.0,749.3 1650.5,740.6 1651.0,657.0 1651.5,749.6 1652.0,775.0 1652.5,760.3 1653.0,754.6 1653.5,743.0 1654.0,761.4 1654.5,748.9 1655.0,774.5 1655.5,770.5 1656.0,718.0 1656.5,753.8 1657.0,755.8 1657.5,738.6 1658.0,757.5 1658.5,768.7 1659.0,776.8 1659.5,751.9 1660.0,747.5 1660.5,778.7 1661.0,772.4 1661.5,778.7 1662.0,770.2 1662.5,762.5 1663.0,777.1 1663.5,743.4 1664.0,762.2 1664.5,745.5 1665.0,759.7 1665.5,769.0 1666.0,682.0 1666.5,767.9 1667.0,768.3 1667.5,768.2 1668.0,775.7 1668.5,766.6 1669.0,696.0 1669.5,777.9 1670.0,751.6 1670.5,770.2 1671.0,762.6 1671.5,776.6 1672.0,759.8 1672.5,754.6 1673.0,765.8 1673.5,769.4 1674.0,778.2 1674.5,744.0 1675.0,776.5 1675.5,739.9 1676.0,771.8 1676.5,774.9 1677.0,767.1 1677.5,778.1 1678.0,776.7 1678.5,743.6 1679.0,761.0 1679.5,753.2 1680.0,751.9 1680.5,746.7 1681.0,754.6 1681.5,773.9 1682.0,767.2 1682.5,763.2 1683.0,756.1 1683.5,760.1 1684.0,718.0 1684.5,753.7 1685.0,772.9 1685.5,773.0 1686.0,774.7 1686.5,750.9 1687.0,775.1 1687.5,752.7 1688.0,747.6 1688.5,770.9 1689.0,778.3 1689.5,747.8 1690.0,745.9 1690.5,746.7 1691.0,760.0 1691.5,742.1 1692.0,775.4 1692.5,756.4 1693.0,745.6 1693.5,756.8 1694.0,769.9 1694.5,759.0 1695.0,753.6 1695.5,774.6 1696.0,775.9 1696.5,743.2 1697.0,745.0 1697.5,747.3 1698.0,768.6 1698.5,772.2 1699.0,718.0 1699.5,759.9 1700.0,741.4 1700.5,741.4 1701.0,743.5 1701.5,747.6 1702.0,759.1 1702.5,773.6 1703.0,750.7 1703.5,773.4 1704.0,761.7 1704.5,744.9 1705.0,749.4 1705.5,776.2 1706.0,775.9 1706.5,778.7 1707.0,778.7 1707.5,743.0 1708.0,755.1 1708.5,778.9 1709.0,777.2 1709.5,766.2 1710.0,778.5 1710.5,771.2 1711.0,767.2 1711.5,770.2 1712.0,775.1 1712.5,778.5 1713.0,739.3 1713.5,763.4 1714.0,749.9 1714.5,751.7 1715.0,766.9 1715.5,774.9 1716.0,773.1 1716.5,745.0 1717.0,752.4 1717.5,744.8 1718.0,753.5 1718.5,760.9 1719.0,772.1 1719.5,769.3 1720.0,751.9 1720.5,771.3 1721.0,771.9 1721.5,747.5 1722.0,765.8 1722.5,750.5 1723.0,774.7 1723.5,737.9 1724.0,759.9 1724.5,734.0 1725.0,742.8 1725.5,737.7 1726.0,759.8 1726.5,755.4 1727.0,769.4 1727.5,762.0 1728.0,744.7 1728.5,769.7 1729.0,768.7 1729.5,746.3 1730.0,759.4 1730.5,739.4 1731.0,753.8 1731.5,778.8 1732.0,739.2 1732.5,764.8 1733.0,763.2 1733.5,768.4 1734.0,678.0 1734.5,778.9 1735.0,778.9 1735.5,777.6 1736.0,777.8 1736.5,777.7 1737.0,778.1 1737.5,778.1 1738.0,778.7 1738.5,778.9 1739.0,778.0 1739.5,777.5 1740.0,778.4 1740.5,778.4 1741.0,778.8 1741.5,777.3 1742.0,778.8 1742.5,778.9 1743.0,777.6 1743.5,779.0 1744.0,778.2 1744.5,777.6 1745.0,778.1 1745.5,778.0 1746.0,778.9 1746.5,778.7 1747.0,777.9 1747.5,778.0 1748.0,712.0 1748.5,773.4 1749.0,775.6" fill="none" stroke="#3f8ccc" stroke-width="0.9" stroke-linejoin="round"/><path d="M1001.6 727.7H1748.7" stroke="#000" stroke-width="2.6" stroke-dasharray="9.6 6.3"/><path d="M1234.5 661.6L1256.6 719.5" stroke="#4a8ad0" stroke-width="1.3"/><path d="M1258.5 724.8L1254.2 717.8L1259.4 716.2Z" fill="#4a8ad0"/>
<path d="M172.8 361.6v-5M172.8 0.0v5M256.2 361.6v-5M256.2 0.0v5M339.5 361.6v-5M339.5 0.0v5M422.9 361.6v-5M422.9 0.0v5M506.2 361.6v-5M506.2 0.0v5M589.6 361.6v-5M589.6 0.0v5M672.9 361.6v-5M672.9 0.0v5M756.3 361.6v-5M756.3 0.0v5M172.8 781.0v-5M172.8 421.5v5M256.2 781.0v-5M256.2 421.5v5M339.5 781.0v-5M339.5 421.5v5M422.9 781.0v-5M422.9 421.5v5M506.2 781.0v-5M506.2 421.5v5M589.6 781.0v-5M589.6 421.5v5M672.9 781.0v-5M672.9 421.5v5M756.3 781.0v-5M756.3 421.5v5M89.5 51.6h5M840 51.6h-5M89.5 103.2h5M840 103.2h-5M89.5 154.8h5M840 154.8h-5M89.5 206.4h5M840 206.4h-5M89.5 258.0h5M840 258.0h-5M89.5 309.6h5M840 309.6h-5M89.5 361.2h5M840 361.2h-5M89.5 472.8h5M840 472.8h-5M89.5 524.1h5M840 524.1h-5M89.5 575.4h5M840 575.4h-5M89.5 626.7h5M840 626.7h-5M89.5 678.0h5M840 678.0h-5M89.5 729.3h5M840 729.3h-5" stroke="#1a2a60" stroke-width="1" opacity="0.55" fill="none"/>
<g font-family="'Liberation Serif','Times New Roman',serif" fill="#000"><text x="93.3" y="396.3" transform="scale(0.9,1)" text-anchor="middle" font-size="33.8" font-weight="bold">11.4</text><text x="185.9" y="396.3" transform="scale(0.9,1)" text-anchor="middle" font-size="33.8" font-weight="bold">11.45</text><text x="278.2" y="396.3" transform="scale(0.9,1)" text-anchor="middle" font-size="33.8" font-weight="bold">11.5</text><text x="370.6" y="396.3" transform="scale(0.9,1)" text-anchor="middle" font-size="33.8" font-weight="bold">11.55</text><text x="462.9" y="396.3" transform="scale(0.9,1)" text-anchor="middle" font-size="33.8" font-weight="bold">11.6</text><text x="555.2" y="396.3" transform="scale(0.9,1)" text-anchor="middle" font-size="33.8" font-weight="bold">11.65</text><text x="647.7" y="396.3" transform="scale(0.9,1)" text-anchor="middle" font-size="33.8" font-weight="bold">11.7</text><text x="740.0" y="396.3" transform="scale(0.9,1)" text-anchor="middle" font-size="33.8" font-weight="bold">11.75</text><text x="840.6" y="396.3" transform="scale(0.9,1)" text-anchor="middle" font-size="33.8" font-weight="bold">11.80</text><text x="940.8" y="396.3" transform="scale(0.9,1)" text-anchor="middle" font-size="33.8" font-weight="bold">11.85</text><text x="93.3" y="819.7" transform="scale(0.9,1)" text-anchor="middle" font-size="33.8" font-weight="bold">11.4</text><text x="185.9" y="819.7" transform="scale(0.9,1)" text-anchor="middle" font-size="33.8" font-weight="bold">11.45</text><text x="278.2" y="819.7" transform="scale(0.9,1)" text-anchor="middle" font-size="33.8" font-weight="bold">11.5</text><text x="370.6" y="819.7" transform="scale(0.9,1)" text-anchor="middle" font-size="33.8" font-weight="bold">11.55</text><text x="462.9" y="819.7" transform="scale(0.9,1)" text-anchor="middle" font-size="33.8" font-weight="bold">11.6</text><text x="555.2" y="819.7" transform="scale(0.9,1)" text-anchor="middle" font-size="33.8" font-weight="bold">11.65</text><text x="647.7" y="819.7" transform="scale(0.9,1)" text-anchor="middle" font-size="33.8" font-weight="bold">11.7</text><text x="740.0" y="819.7" transform="scale(0.9,1)" text-anchor="middle" font-size="33.8" font-weight="bold">11.75</text><text x="840.6" y="819.7" transform="scale(0.9,1)" text-anchor="middle" font-size="33.8" font-weight="bold">11.80</text><text x="940.8" y="819.7" transform="scale(0.9,1)" text-anchor="middle" font-size="33.8" font-weight="bold">11.85</text><text x="1100.4" y="396.2" transform="scale(0.9,1)" text-anchor="middle" font-size="33.8" font-weight="bold">11.4</text><text x="1193.0" y="396.2" transform="scale(0.9,1)" text-anchor="middle" font-size="33.8" font-weight="bold">11.45</text><text x="1285.3" y="396.2" transform="scale(0.9,1)" text-anchor="middle" font-size="33.8" font-weight="bold">11.5</text><text x="1377.7" y="396.2" transform="scale(0.9,1)" text-anchor="middle" font-size="33.8" font-weight="bold">11.55</text><text x="1470.0" y="396.2" transform="scale(0.9,1)" text-anchor="middle" font-size="33.8" font-weight="bold">11.6</text><text x="1562.3" y="396.2" transform="scale(0.9,1)" text-anchor="middle" font-size="33.8" font-weight="bold">11.65</text><text x="1654.8" y="396.2" transform="scale(0.9,1)" text-anchor="middle" font-size="33.8" font-weight="bold">11.7</text><text x="1747.1" y="396.2" transform="scale(0.9,1)" text-anchor="middle" font-size="33.8" font-weight="bold">11.75</text><text x="1847.7" y="396.2" transform="scale(0.9,1)" text-anchor="middle" font-size="33.8" font-weight="bold">11.80</text><text x="1947.9" y="396.2" transform="scale(0.9,1)" text-anchor="middle" font-size="33.8" font-weight="bold">11.85</text><text transform="translate(76.2,15.0) rotate(-90)" text-anchor="middle" font-size="33.5" font-weight="bold">10</text><text transform="translate(76.2,62.5) rotate(-90)" text-anchor="middle" font-size="33.5" font-weight="bold">20</text><text transform="translate(76.2,110.0) rotate(-90)" text-anchor="middle" font-size="33.5" font-weight="bold">30</text><text transform="translate(76.2,157.4) rotate(-90)" text-anchor="middle" font-size="33.5" font-weight="bold">40</text><text transform="translate(76.2,204.9) rotate(-90)" text-anchor="middle" font-size="33.5" font-weight="bold">50</text><text transform="translate(76.2,252.4) rotate(-90)" text-anchor="middle" font-size="33.5" font-weight="bold">60</text><text transform="translate(76.2,299.9) rotate(-90)" text-anchor="middle" font-size="33.5" font-weight="bold">70</text><text transform="translate(76.2,347.4) rotate(-90)" text-anchor="middle" font-size="33.5" font-weight="bold">80</text><text transform="translate(76.0,440.0) rotate(-90)" text-anchor="middle" font-size="33.5" font-weight="bold">10</text><text transform="translate(76.0,487.4) rotate(-90)" text-anchor="middle" font-size="33.5" font-weight="bold">20</text><text transform="translate(76.0,534.7) rotate(-90)" text-anchor="middle" font-size="33.5" font-weight="bold">30</text><text transform="translate(76.0,582.1) rotate(-90)" text-anchor="middle" font-size="33.5" font-weight="bold">40</text><text transform="translate(76.0,629.5) rotate(-90)" text-anchor="middle" font-size="33.5" font-weight="bold">50</text><text transform="translate(76.0,676.9) rotate(-90)" text-anchor="middle" font-size="33.5" font-weight="bold">60</text><text transform="translate(76.0,724.2) rotate(-90)" text-anchor="middle" font-size="33.5" font-weight="bold">70</text><text transform="translate(76.0,771.6) rotate(-90)" text-anchor="middle" font-size="33.5" font-weight="bold">80</text><text transform="translate(983.8,14.1) rotate(-90)" text-anchor="middle" font-size="33.5" font-weight="bold">10</text><text transform="translate(983.8,61.7) rotate(-90)" text-anchor="middle" font-size="33.5" font-weight="bold">20</text><text transform="translate(983.8,109.2) rotate(-90)" text-anchor="middle" font-size="33.5" font-weight="bold">30</text><text transform="translate(983.8,156.8) rotate(-90)" text-anchor="middle" font-size="33.5" font-weight="bold">40</text><text transform="translate(983.8,204.3) rotate(-90)" text-anchor="middle" font-size="33.5" font-weight="bold">50</text><text transform="translate(983.8,251.9) rotate(-90)" text-anchor="middle" font-size="33.5" font-weight="bold">60</text><text transform="translate(983.8,299.5) rotate(-90)" text-anchor="middle" font-size="33.5" font-weight="bold">70</text><text transform="translate(983.8,347.0) rotate(-90)" text-anchor="middle" font-size="33.5" font-weight="bold">80</text><text transform="translate(27.6,337.3) rotate(-90)" font-size="40.7" font-weight="bold">Frequency (MHz)</text><text transform="translate(27.6,763.0) rotate(-90)" font-size="40.7" font-weight="bold">Frequency (MHz)</text><text transform="translate(935.9,338.6) rotate(-90)" font-size="40.7" font-weight="bold">Frequency (MHz)</text><text x="843.5" y="192.6" font-size="41" font-weight="bold">(a)</text><text x="842.5" y="602.6" font-size="41" font-weight="bold">(b)</text><text x="1750" y="192.6" font-size="41" font-weight="bold">(c)</text><text x="1751.5" y="604.7" font-size="41" font-weight="bold">(d)</text><text transform="translate(942.7,739.5) rotate(-90)" font-size="40.5" font-weight="bold">Signal by Radon</text><text transform="translate(983,776) rotate(-90)" font-size="40.6" font-weight="bold">transform technique</text><text x="1119.6" y="610.6" font-size="31.5">Threshold level</text><text x="1199.2" y="647.8" font-size="30.3" font-weight="bold">Th</text><text x="1253.9" y="861" font-size="40.7" font-weight="bold">Time (hour)</text></g>
</svg></body></html>
